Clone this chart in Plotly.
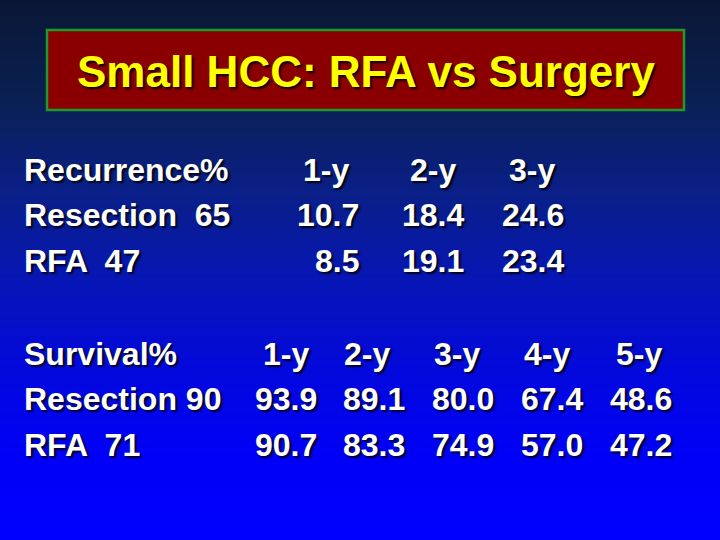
import numpy as np
import plotly.graph_objects as go

title = "Small HCC: RFA vs Surgery"

rec_label = "Recurrence%"
rec_years = ["1-y", "2-y", "3-y"]
rec_groups = ["Resection  65", "RFA  47"]
rec_resection = [10.7, 18.4, 24.6]
rec_rfa = [8.5, 19.1, 23.4]

surv_label = "Survival%"
surv_years = ["1-y", "2-y", "3-y", "4-y", "5-y"]
surv_groups = ["Resection 90", "RFA  71"]
surv_resection = [93.9, 89.1, 80.0, 67.4, 48.6]
surv_rfa = [90.7, 83.3, 74.9, 57.0, 47.2]

# layout in slide pixels (720 x 540)
left_x = 22
rec_head_x = [351, 458, 557]      # right edges of the year labels
rec_val_x = [361, 466, 566]       # right edges of the values
surv_head_x = [286, 367, 457, 547, 639]
surv_val_x = [286, 374, 463, 552, 641]
rec_rows_y = [170, 215, 261]
surv_rows_y = [354, 399, 445]

FONT = "Liberation Sans, Arial, sans-serif"
SHADOW = "2px 2px 2px rgba(0,0,0,0.85)"
body = dict(family=FONT, size=32, color="white", weight=700, shadow=SHADOW)

fig = go.Figure()

# background gradient, dark navy at the top to pure blue at the bottom
ys = np.linspace(0, 540, 55)
fig.add_trace(go.Heatmap(
    x=[0, 720], y=ys, z=[[v, v] for v in ys],
    colorscale=[[0, "#0a1634"], [0.18, "#0a2052"], [0.35, "#0a1f86"],
                [0.5, "#0717b0"], [0.68, "#0309dc"], [0.85, "#0000f8"],
                [1, "#0000ff"]],
    showscale=False, zsmooth="best", hoverinfo="skip"))

fig.add_shape(type="rect", x0=47, x1=684, y0=30, y1=110,
              fillcolor="#8a0000", line=dict(color="#1f9a2a", width=2.5))

ann = []
ann.append(dict(x=366, y=71, text=title, xanchor="center",
                font=dict(family=FONT, size=44, color="#ffff00", weight=700,
                          shadow="2px 2px 2px rgba(0,0,0,0.9)")))

# recurrence block
ann.append(dict(x=left_x, y=rec_rows_y[0], text=rec_label, xanchor="left", font=body))
for x, t in zip(rec_head_x, rec_years):
    ann.append(dict(x=x, y=rec_rows_y[0], text=t, xanchor="right", font=body))
for yy, name, vals in zip(rec_rows_y[1:], rec_groups, [rec_resection, rec_rfa]):
    ann.append(dict(x=left_x, y=yy, text=name, xanchor="left", font=body))
    for x, v in zip(rec_val_x, vals):
        ann.append(dict(x=x, y=yy, text=f"{v:.1f}", xanchor="right", font=body))

# survival block
ann.append(dict(x=left_x, y=surv_rows_y[0], text=surv_label, xanchor="left", font=body))
for x, t in zip(surv_head_x, surv_years):
    ann.append(dict(x=x, y=surv_rows_y[0], text=t, xanchor="center", font=body))
for yy, name, vals in zip(surv_rows_y[1:], surv_groups, [surv_resection, surv_rfa]):
    ann.append(dict(x=left_x, y=yy, text=name, xanchor="left", font=body))
    for x, v in zip(surv_val_x, vals):
        ann.append(dict(x=x, y=yy, text=f"{v:.1f}", xanchor="center", font=body))

for a in ann:
    a.update(xref="x", yref="y", yanchor="middle", showarrow=False)

fig.update_layout(
    width=720, height=540,
    margin=dict(l=0, r=0, t=0, b=0),
    paper_bgcolor="#0000ff", plot_bgcolor="#0000ff",
    xaxis=dict(range=[0, 720], visible=False, fixedrange=True),
    yaxis=dict(range=[540, 0], visible=False, fixedrange=True),
    annotations=ann,
    showlegend=False,
)

# drop the browser's default page margin so the slide sits at (0, 0)
fig.write_html("out.html", config={"displayModeBar": False},
               post_script="document.body.style.margin='0';document.body.style.overflow='hidden';")
